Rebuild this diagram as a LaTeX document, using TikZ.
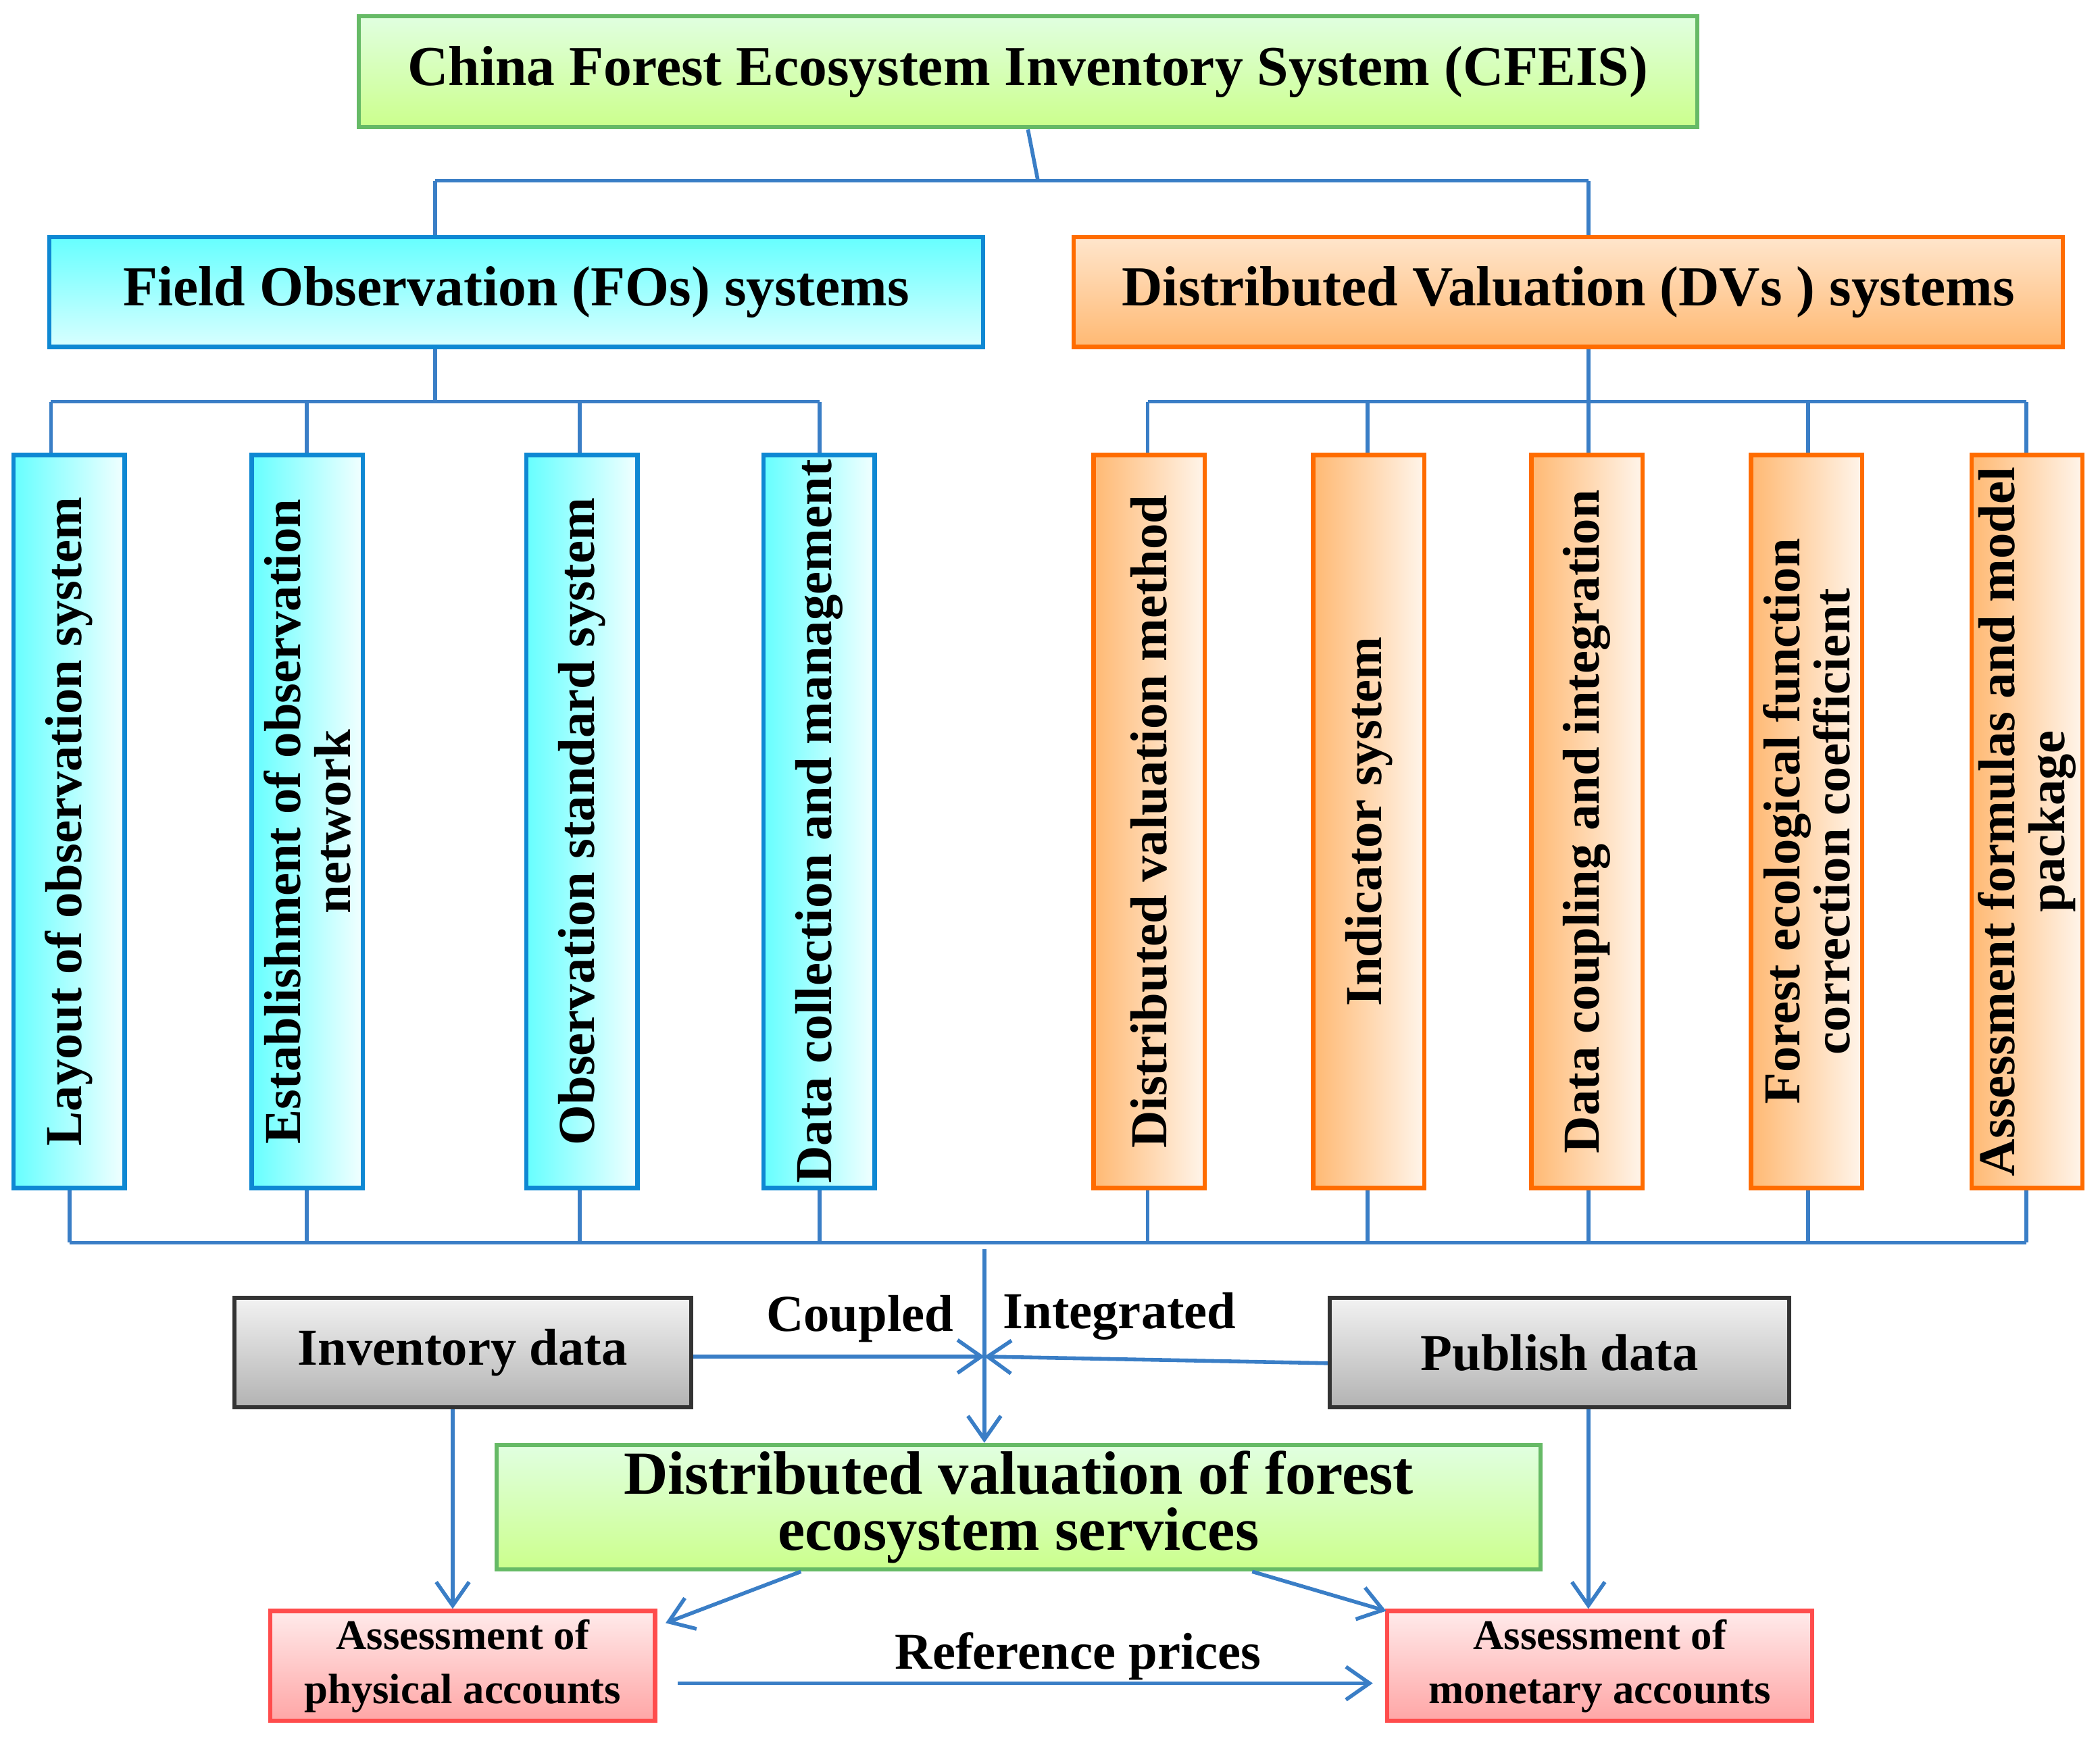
\documentclass[tikz,border=0pt]{standalone}
\usepackage{fontspec}
\setmainfont{Liberation Serif}
\usetikzlibrary{arrows.meta}
\definecolor{ln}{HTML}{3A7EC6}
\tikzset{
 base/.style={draw, line width=0.9pt, inner sep=0pt, align=center, font=\bfseries, drop shadow/.style={}},
 gbox/.style={base, draw=green!55!black!60, top color=green!12!white, bottom color=green!45!yellow!45!white, font=\bfseries\fontsize{12}{12}\selectfont},
 cbox/.style={base, draw=cyan!70!blue, top color=cyan!60!white, bottom color=cyan!15!white, font=\bfseries\fontsize{12}{12}\selectfont},
 obox/.style={base, draw=orange!85!red, top color=orange!20!white, bottom color=orange!55!white, font=\bfseries\fontsize{12}{12}\selectfont},
 cvbox/.style={base, draw=cyan!70!blue, left color=cyan!60!white, right color=cyan!5!white, font=\bfseries\fontsize{11}{10.5}\selectfont},
 ovbox/.style={base, draw=orange!85!red, left color=orange!55!white, right color=orange!8!white, font=\bfseries\fontsize{11}{10.5}\selectfont},
 graybox/.style={base, draw=black!80, top color=black!5, bottom color=black!30, font=\bfseries\fontsize{11}{11}\selectfont},
 rbox/.style={base, draw=red!70, top color=red!8, bottom color=red!35, font=\bfseries\fontsize{9}{11.5}\selectfont},
 ln/.style={draw=ln, line width=0.8pt},
 arr/.style={ln, -{Straight Barb[length=5pt,width=7pt]}},
 lbl/.style={font=\bfseries\fontsize{11}{11}\selectfont},
}
\begin{document}
\begin{tikzpicture}[x=0.01cm,y=-0.01cm]
\useasboundingbox (0,0) rectangle (1568,1300);
\node[gbox, minimum width=9.99cm, minimum height=0.83cm] (title) at (767.5,53.5) {China Forest Ecosystem Inventory System (CFEIS)};
\node[cbox, minimum width=6.97cm, minimum height=0.82cm] (fo) at (385.5,218) {Field Observation (FOs) systems};
\node[obox, minimum width=7.38cm, minimum height=0.82cm] (dv) at (1171,218) {Distributed Valuation (DVs ) systems};
% vertical boxes
\foreach \n/\x/\t in {c1/51.5/{Layout of observation system},c2/229.5/{Establishment of observation\\network},c3/434.5/{Observation standard system},c4/611.5/{Data collection and management}}
 \node[cvbox, minimum width=5.47cm, minimum height=0.83cm, rotate=90] (\n) at (\x,613.5) {\t};
\foreach \n/\x/\t in {d1/858/{Distributed valuation method},d2/1022/{Indicator system},d3/1185/{Data coupling and integration},d4/1349/{Forest ecological function\\correction coefficient},d5/1513.5/{Assessment formulas and model\\package}}
 \node[ovbox, minimum width=5.47cm, minimum height=0.83cm, rotate=90] (\n) at (\x,613.5) {\t};
\node[graybox, minimum width=3.41cm, minimum height=0.82cm] (inv) at (345.5,1010) {Inventory data};
\node[graybox, minimum width=3.43cm, minimum height=0.82cm] (pub) at (1164.5,1010) {Publish data};
\node[gbox, minimum width=7.79cm, minimum height=0.93cm, font=\bfseries\fontsize{13}{12}\selectfont] (dvf) at (760.5,1125.5) {Distributed valuation of forest\\ecosystem services};
\node[rbox, minimum width=2.87cm, minimum height=0.82cm] (phy) at (345.5,1244) {Assessment of\\physical accounts};
\node[rbox, minimum width=3.17cm, minimum height=0.82cm] (mon) at (1194.5,1244) {Assessment of\\monetary accounts};
\node[lbl] (cp) at (642,985) {Coupled};
\node[lbl] (ig) at (836,983) {Integrated};
\node[lbl] (rp) at (805,1237) {Reference prices};
% tree lines
\draw[ln] (title.south) -- (775,135) coordinate (h1);
\draw[ln] (325,135) -- (1186,135);
\draw[ln] (325,135) -- (fo.north -| 325,0);
\draw[ln] (1186,135) -- (dv.north -| 1186,0);
\draw[ln] (fo.south -| 325,0) -- (325,300);
\draw[ln] (38,300) -- (612,300);
\foreach \n/\x in {c1/38,c2/229,c3/433,c4/612} \draw[ln] (\x,300) -- (\n.east -| \x,0);
\draw[ln] (dv.south -| 1186,0) -- (1186,300);
\draw[ln] (857,300) -- (1513,300);
\foreach \n/\x in {d1/857,d2/1021,d3/1186,d4/1350,d5/1513} \draw[ln] (\x,300) -- (\n.east -| \x,0);
\foreach \n/\x in {c1/52,c2/229,c3/433,c4/612,d1/857,d2/1021,d3/1186,d4/1350,d5/1513} \draw[ln] (\n.west -| \x,0) -- (\x,928);
\draw[ln] (52,928) -- (1513,928);
\coordinate (m) at (735,1013);
\draw[arr] (735,933) -- (dvf.north -| 735,0);
\draw[arr] (inv.east |- m) -- (m);
\draw[arr] (pub.west |- 0,1018) -- (m);
\draw[arr] (inv.south -| 338,0) -- (phy.north -| 338,0);
\draw[arr] (pub.south -| 1186,0) -- (mon.north -| 1186,0);
\draw[arr] (dvf.south -| 598,0) -- (497,1212);
\draw[arr] (dvf.south -| 935,0) -- (1035,1203);
\draw[arr] (506,1257) -- (1025,1257);
\end{tikzpicture}
\end{document}
